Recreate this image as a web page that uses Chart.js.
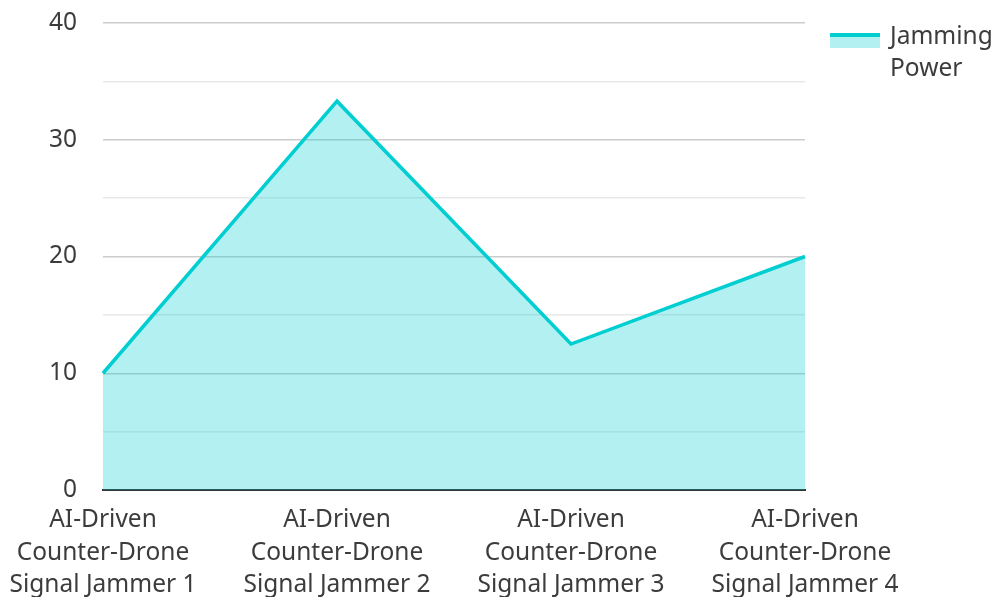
<!DOCTYPE html>
<html>
<head>
<meta charset="utf-8">
<script src="https://cdn.jsdelivr.net/npm/chart.js@4/dist/chart.umd.min.js"></script>
<style>
  html, body { margin: 0; padding: 0; background: #fff; }
  #wrap { width: 995px; height: 597px; }
</style>
</head>
<body>
<div id="wrap"><canvas id="chart" width="995" height="597"></canvas></div>
<script>
const categories = [
    ['AI-Driven', 'Counter-Drone', 'Signal Jammer 1'],
    ['AI-Driven', 'Counter-Drone', 'Signal Jammer 2'],
    ['AI-Driven', 'Counter-Drone', 'Signal Jammer 3'],
    ['AI-Driven', 'Counter-Drone', 'Signal Jammer 4'],
];
const seriesLabel = 'Jamming Power';
const jammingPower = [10, 33.3, 12.5, 20];
const yTicks = [0, 10, 20, 30, 40];

const LINE = '#00ced1';
const FILL = 'rgba(0, 206, 209, 0.3)';
const TEXT = '#3c3c3c';
const FONT = { family: '"Noto Sans", "Open Sans", sans-serif', size: 24.5, lineHeight: 1.33 };

// legend drawn by hand so the label can wrap onto two lines
const sideLegend = {
    id: 'sideLegend',
    afterDraw(chart) {
        const ctx = chart.ctx;
        const x = 830, y = 33;
        ctx.save();
        ctx.fillStyle = FILL;
        ctx.fillRect(x, y, 50, 15);
        ctx.fillStyle = LINE;
        ctx.fillRect(x, y, 50, 4);
        ctx.fillStyle = TEXT;
        ctx.font = `${FONT.size}px ${FONT.family}`;
        ctx.textBaseline = 'middle';
        seriesLabel.split(' ').forEach((w, i) => ctx.fillText(w, 890, 37 + i * 32));
        ctx.restore();
    },
};

new Chart(document.getElementById('chart'), {
    type: 'line',
    data: {
        labels: categories,
        datasets: [{
            label: seriesLabel,
            data: jammingPower,
            borderColor: LINE,
            backgroundColor: FILL,
            borderWidth: 3.5,
            pointRadius: 0,
            fill: 'origin',
            tension: 0,
        }],
    },
    options: {
        responsive: false,
        animation: false,
        layout: { padding: { top: 23, right: 190, bottom: 0, left: 0 } },
        plugins: {
            legend: { display: false },
            tooltip: { enabled: false },
        },
        scales: {
            x: {
                offset: false,
                grid: { display: false },
                border: { display: true, color: '#333333', width: 2 },
                ticks: { color: TEXT, font: FONT, maxRotation: 0, autoSkip: false, padding: 6 },
                afterFit(scale) { scale.height = 107; },
            },
            y: {
                min: 0,
                max: 40,
                grid: {
                    color: (c) => (c.tick && c.tick.value % 10 === 0 ? '#cccccc' : '#e8e8e8'),
                    lineWidth: 1.5,
                    drawTicks: false,
                },
                border: { display: false },
                ticks: {
                    stepSize: 5,
                    color: TEXT,
                    font: FONT,
                    padding: 26,
                    callback: (v) => (yTicks.includes(v) ? v : ''),
                },
                afterFit(scale) {
                    scale.width = 103;
                    scale.paddingTop = 0;
                    scale.paddingBottom = 0;
                },
            },
        },
    },
    plugins: [sideLegend],
});
</script>
</body>
</html>
